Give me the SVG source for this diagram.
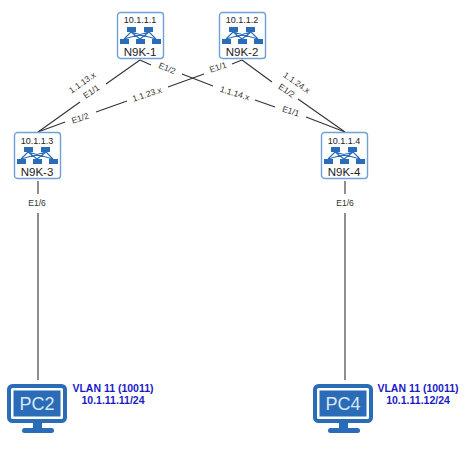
<svg xmlns="http://www.w3.org/2000/svg" width="474" height="450" viewBox="0 0 474 450">
<style>
text{font-family:"Liberation Sans",Arial,sans-serif;text-anchor:middle}
.box{fill:#fff;stroke:#6ea1d8;stroke-width:1.4}
.ip{font-size:9px;fill:#222}
.nm{font-size:11.5px;fill:#222}
.b{fill:#2b6cb8}
.w{stroke:#2b6cb8;stroke-width:1.1;fill:none}
.c{stroke:#333;stroke-width:1.1;fill:none}
.l{font-size:8.5px;fill:#333}
.v{font-size:10.5px;font-weight:bold;fill:#1a1ac8}
.pc{font-size:18px;fill:#dbe7f5}
</style>
<defs>
<g id="sw">
<rect class="box" x="0.5" y="0.5" width="46" height="46" rx="3"/>
<rect class="b" x="10" y="15" width="9" height="5"/><rect class="b" x="27" y="15" width="9" height="5"/>
<rect class="b" x="3" y="27" width="9" height="5"/><rect class="b" x="19" y="27" width="9" height="5"/><rect class="b" x="35" y="27" width="9" height="5"/>
<path class="w" d="M14 20L7 27M14 20L23 27M14 20L39 27M32 20L7 27M32 20L23 27M32 20L39 27"/>
</g>
<g id="mon">
<rect x="9" y="386" width="56" height="35" rx="3.5" fill="#fff" stroke="#2b6cb8" stroke-width="4"/>
<rect class="b" x="13.5" y="390.500" width="47" height="26"/>
<rect class="b" x="33" y="423" width="9" height="6"/>
<rect class="b" x="22" y="428" width="32" height="5" rx="2.5"/>
</g>
</defs>
<g id="connectors">
<path class="c" d="M140 60L106 84M80 102L38 132"/>
<path class="c" d="M140 60L151 65M182 74L213 86M255 100L275 107M306 117L345 132"/>
<path class="c" d="M242 60L232 64M204 74L168 87M127 101L96 112M65 122L38 132"/>
<path class="c" d="M242 60L272 82M298 99L345 132"/>
<path class="c" d="M38 181V194M38 213V380M345 181V194M345 213V380"/>
<g class="edge-labels">
<text class="l" transform="translate(84,85) rotate(-35)">1.1.13.x</text>
<text class="l" transform="translate(93,94) rotate(-35)">E1/1</text>
<text class="l" transform="translate(81,121) rotate(-18)">E1/2</text>
<text class="l" transform="translate(148,97) rotate(-18)">1.1.23.x</text>
<text class="l" transform="translate(166,71) rotate(22)">E1/2</text>
<text class="l" transform="translate(219,70) rotate(-19)">E1/1</text>
<text class="l" transform="translate(234,96) rotate(17)">1.1.14.x</text>
<text class="l" transform="translate(290,114) rotate(17)">E1/1</text>
<text class="l" transform="translate(285,93) rotate(35)">E1/2</text>
<text class="l" transform="translate(295,85) rotate(35)">1.1.24.x</text>
<text class="l" x="37" y="206">E1/6</text>
<text class="l" x="345" y="206">E1/6</text>
</g>
</g>
<g id="n9k1"><use href="#sw" x="117" y="12"/><text class="ip" x="140" y="23">10.1.1.1</text><text class="nm" x="140" y="56">N9K-1</text></g>
<g id="n9k2"><use href="#sw" x="219" y="12"/><text class="ip" x="242" y="23">10.1.1.2</text><text class="nm" x="242" y="56">N9K-2</text></g>
<g id="n9k3"><use href="#sw" x="14" y="132"/><text class="ip" x="37" y="144">10.1.1.3</text><text class="nm" x="37" y="176">N9K-3</text></g>
<g id="n9k4"><use href="#sw" x="321" y="132"/><text class="ip" x="344" y="144">10.1.1.4</text><text class="nm" x="344" y="176">N9K-4</text></g>
<g id="pc2"><use href="#mon"/><text class="pc" x="37" y="410">PC2</text><text class="v" x="113" y="392">VLAN 11 (10011)</text><text class="v" x="113" y="404">10.1.11.11/24</text></g>
<g id="pc4"><use href="#mon" x="306"/><text class="pc" x="343" y="410">PC4</text><text class="v" x="418" y="392">VLAN 11 (10011)</text><text class="v" x="418" y="404">10.1.11.12/24</text></g>
</svg>
